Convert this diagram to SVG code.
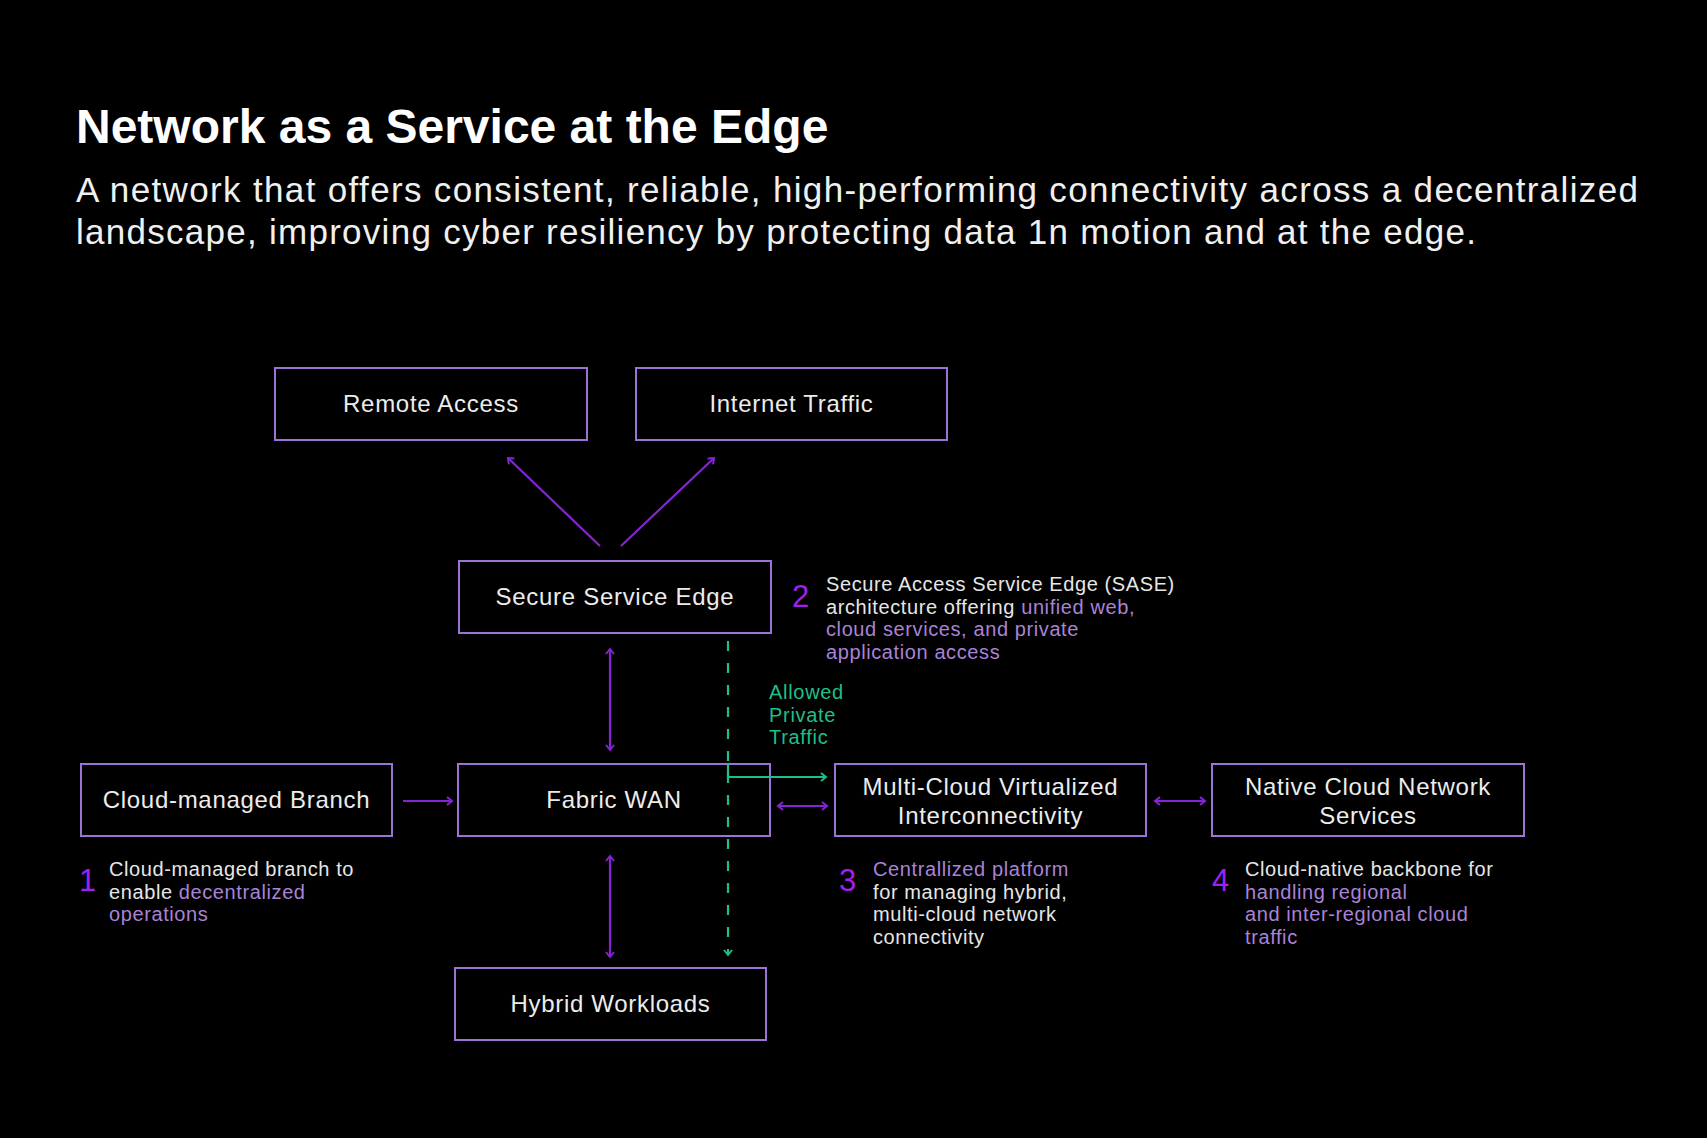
<svg xmlns="http://www.w3.org/2000/svg" width="1707" height="1138" viewBox="0 0 1707 1138">
<defs>
<style>
.bg{fill:#000}
.box{fill:none;stroke:#9c72d6;stroke-width:2}
.lbl{font-family:"Liberation Sans",Arial,sans-serif;font-size:24px;fill:#ececec;text-anchor:middle;letter-spacing:0.7px}
.title{font-family:"Liberation Sans",Arial,sans-serif;font-size:48px;font-weight:bold;fill:#fff}
.sub{font-family:"Liberation Sans",Arial,sans-serif;font-size:35px;fill:#f0f0f0}
.ann{font-family:"Liberation Sans",Arial,sans-serif;font-size:20px;fill:#e6e6e6;letter-spacing:0.6px}
.hl{fill:#a983d8}
.num{font-family:"Liberation Sans",Arial,sans-serif;font-size:31px;fill:#a020f0}
.grn{font-family:"Liberation Sans",Arial,sans-serif;font-size:20px;fill:#1fbf88;letter-spacing:0.7px}
.arr{fill:none;stroke:#8424d6;stroke-width:2.2}
.garr{fill:none;stroke:#1fbf88;stroke-width:2.2}
</style>
<marker id="ap" viewBox="0 0 10 10" refX="8" refY="5" markerWidth="10" markerHeight="10" markerUnits="userSpaceOnUse" orient="auto-start-reverse">
<path d="M3,1 L8,5 L3,9" fill="none" stroke="#8424d6" stroke-width="2"/>
</marker>
<marker id="ag" viewBox="0 0 10 10" refX="8" refY="5" markerWidth="10" markerHeight="10" markerUnits="userSpaceOnUse" orient="auto-start-reverse">
<path d="M3,1 L8,5 L3,9" fill="none" stroke="#1fbf88" stroke-width="2"/>
</marker>
</defs>
<rect class="bg" x="0" y="0" width="1707" height="1138"/>
<g id="header">
<text class="title" x="76" y="143">Network as a Service at the Edge</text>
<text class="sub" x="76" y="202" textLength="1562" lengthAdjust="spacing">A network that offers consistent, reliable, high-performing connectivity across a decentralized</text>
<text class="sub" x="76" y="244" textLength="1400" lengthAdjust="spacing">landscape, improving cyber resiliency by protecting data 1n motion and at the edge.</text>
</g>
<g id="node-remote-access">
<rect class="box" x="275" y="368" width="312" height="72"/>
<text class="lbl" x="431" y="412">Remote Access</text>
</g>
<g id="node-internet-traffic">
<rect class="box" x="636" y="368" width="311" height="72"/>
<text class="lbl" x="791.5" y="412">Internet Traffic</text>
</g>
<g id="node-secure-service-edge">
<rect class="box" x="459" y="561" width="312" height="72"/>
<text class="lbl" x="615" y="605">Secure Service Edge</text>
</g>
<g id="node-cloud-managed-branch">
<rect class="box" x="81" y="764" width="311" height="72"/>
<text class="lbl" x="236.5" y="808">Cloud-managed Branch</text>
</g>
<g id="node-fabric-wan">
<rect class="box" x="458" y="764" width="312" height="72"/>
<text class="lbl" x="614" y="808">Fabric WAN</text>
</g>
<g id="node-multi-cloud">
<rect class="box" x="835" y="764" width="311" height="72"/>
<text class="lbl" x="990.5" y="795">Multi-Cloud Virtualized</text>
<text class="lbl" x="990.5" y="824">Interconnectivity</text>
</g>
<g id="node-native-cloud">
<rect class="box" x="1212" y="764" width="312" height="72"/>
<text class="lbl" x="1368" y="795">Native Cloud Network</text>
<text class="lbl" x="1368" y="824">Services</text>
</g>
<g id="node-hybrid-workloads">
<rect class="box" x="455" y="968" width="311" height="72"/>
<text class="lbl" x="610.5" y="1012">Hybrid Workloads</text>
</g>
<g id="connectors">
<line class="arr" x1="600" y1="546" x2="508" y2="458" marker-end="url(#ap)"/>
<line class="arr" x1="621" y1="546" x2="714" y2="458" marker-end="url(#ap)"/>
<line class="arr" x1="610" y1="649" x2="610" y2="750" marker-start="url(#ap)" marker-end="url(#ap)"/>
<line class="arr" x1="403" y1="801" x2="452" y2="801" marker-end="url(#ap)"/>
<line class="arr" x1="778" y1="806" x2="827" y2="806" marker-start="url(#ap)" marker-end="url(#ap)"/>
<line class="arr" x1="1155" y1="801" x2="1205" y2="801" marker-start="url(#ap)" marker-end="url(#ap)"/>
<line class="arr" x1="610" y1="856" x2="610" y2="957" marker-start="url(#ap)" marker-end="url(#ap)"/>
<line class="garr" x1="728" y1="641" x2="728" y2="955" stroke-dasharray="10 12" marker-end="url(#ag)"/>
<path class="garr" d="M728,764 V777 H826" marker-end="url(#ag)"/>
</g>
<g id="note-2">
<text class="num" x="792" y="607">2</text>
<text class="ann" x="826" y="591">Secure Access Service Edge (SASE)</text>
<text class="ann" x="826" y="613.5">architecture offering <tspan class="hl">unified web,</tspan></text>
<text class="ann hl" x="826" y="636">cloud services, and private</text>
<text class="ann hl" x="826" y="658.5">application access</text>
</g>
<g id="note-allowed">
<text class="grn" x="769" y="699">Allowed</text>
<text class="grn" x="769" y="721.5">Private</text>
<text class="grn" x="769" y="744">Traffic</text>
</g>
<g id="note-1">
<text class="num" x="79" y="891">1</text>
<text class="ann" x="109" y="876">Cloud-managed branch to</text>
<text class="ann" x="109" y="898.5">enable <tspan class="hl">decentralized</tspan></text>
<text class="ann hl" x="109" y="921">operations</text>
</g>
<g id="note-3">
<text class="num" x="839" y="891">3</text>
<text class="ann hl" x="873" y="876">Centrallized platform</text>
<text class="ann" x="873" y="898.5">for managing hybrid,</text>
<text class="ann" x="873" y="921">multi-cloud network</text>
<text class="ann" x="873" y="943.5">connectivity</text>
</g>
<g id="note-4">
<text class="num" x="1212" y="891">4</text>
<text class="ann" x="1245" y="876">Cloud-native backbone for</text>
<text class="ann hl" x="1245" y="898.5">handling regional</text>
<text class="ann hl" x="1245" y="921">and inter-regional cloud</text>
<text class="ann hl" x="1245" y="943.5">traffic</text>
</g>
</svg>
